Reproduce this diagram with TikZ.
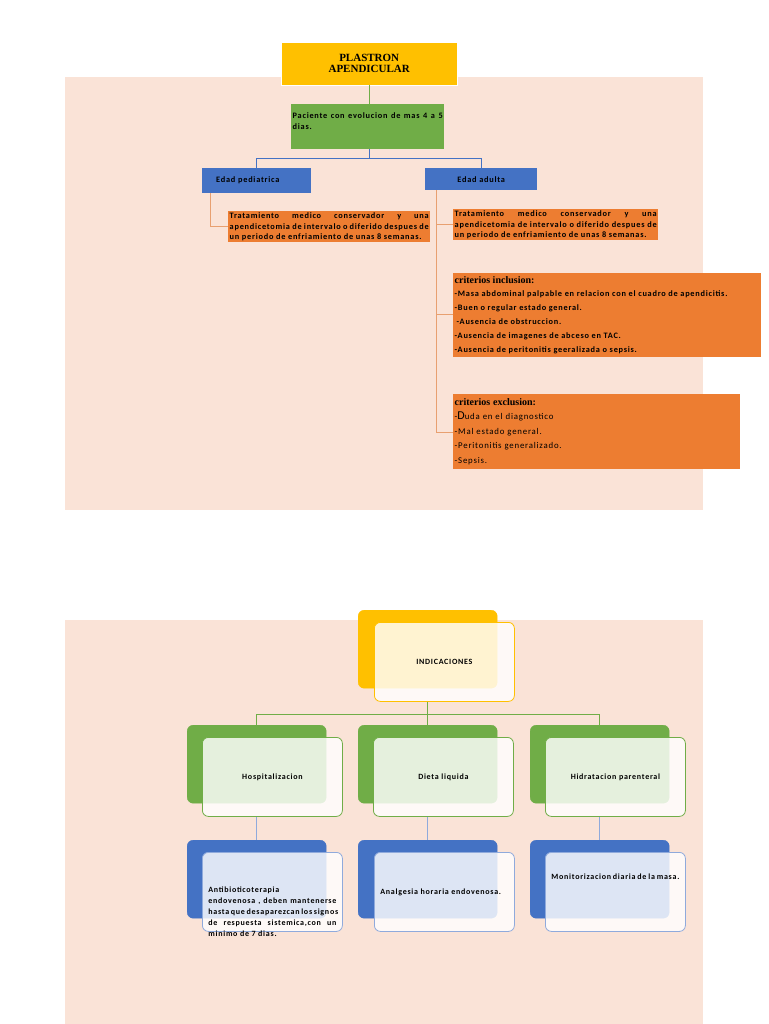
\documentclass[tikz,border=0pt]{standalone}
\usepackage{fontspec}
\setmainfont{Carlito}[LetterSpace=9]
\newfontfamily\titlefont{Liberation Serif}
\usetikzlibrary{positioning}
\definecolor{peach}{HTML}{FAE3D7}
\definecolor{gold}{HTML}{FFC000}
\definecolor{leaf}{HTML}{70AD47}
\definecolor{sky}{HTML}{4472C4}
\definecolor{rust}{HTML}{ED7D31}
\definecolor{rustline}{HTML}{E8A070}
\definecolor{slate}{HTML}{8FAADC}
\hyphenpenalty=10000
\exhyphenpenalty=10000

\begin{document}
\begin{tikzpicture}[x=1pt,y=-1pt,
  box/.style={anchor=north west,inner sep=1.5pt,font=\fontsize{8.3}{10.5}\selectfont\bfseries},
  textbox/.style={box,align=justify,text width=#1},
  backbox/.style={anchor=north west,rounded corners=6pt,minimum width=139pt,minimum height=78pt,fill=#1,draw=#1},
  frontbox/.style={anchor=north west,rounded corners=6pt,minimum width=140pt,minimum height=79pt,
    fill=white,fill opacity=0.82,text opacity=1,draw=#1,line width=0.8pt,
    font=\fontsize{8}{11}\selectfont\bfseries,text width=128pt},
  gline/.style={leaf,line width=0.8pt},
  bline/.style={sky,line width=0.8pt},
  oline/.style={rustline,line width=0.8pt}]
  \useasboundingbox (0,0) rectangle (768,1024);
  \fill[white] (0,0) rectangle (768,1024);
  \fill[peach] (65,77) rectangle (703,510);
  \fill[peach] (65,620) rectangle (703,1024);

  % first map
  \node[box,fill=gold,draw=white,minimum width=176pt,minimum height=43pt,align=center,
    font=\titlefont\fontsize{11}{11}\selectfont\bfseries] (title) at (281,42) {PLASTRON\\APENDICULAR};
  \node[textbox=150pt,fill=leaf,minimum height=45pt,text depth=22pt] (evol) at (291,104)
    {Paciente con evolucion de mas 4 a 5 dias.};
  \node[box,fill=sky,minimum width=109pt,minimum height=25pt,align=left,text width=105pt] (pedia) at (202,168) {\hspace*{12pt}Edad pediatrica};
  \node[box,fill=sky,minimum width=112pt,minimum height=22pt,align=center,text width=108pt] (adult) at (425,168) {Edad adulta};
  \node[textbox=199pt,fill=rust] (trat1) at (228,211)
    {Tratamiento medico conservador y una apendicetomia de intervalo o diferido despues de un periodo de enfriamiento de unas 8 semanas.};
  \node[textbox=202pt,fill=rust] (trat2) at (453,209)
    {Tratamiento medico conservador y una apendicetomia de intervalo o diferido despues de un periodo de enfriamiento de unas 8 semanas.};
  \node[textbox=305pt,fill=rust,font=\fontsize{8.3}{14}\selectfont\bfseries,inner ysep=3pt] (incl) at (453,273)
    {{\titlefont\fontsize{10}{10}\selectfont criterios inclusion:}\\[-1pt]
     -Masa abdominal palpable en relacion con el cuadro de apendicitis.\\
     -Buen o regular estado general.\\
     \hspace*{2pt}-Ausencia de obstruccion.\\
     -Ausencia de imagenes de abceso en TAC.\\
     -Ausencia de peritonitis geeralizada o sepsis.};
  \node[textbox=284pt,fill=rust,align=left,font=\fontsize{8.8}{14.5}\selectfont,inner ysep=4pt] (excl) at (453,394)
    {{\titlefont\fontsize{10}{10}\selectfont\bfseries criterios exclusion:}\\
     -{\large D}uda en el diagnostico\\
     -Mal estado general.\\
     -Peritonitis generalizado.\\
     -Sepsis.};

  \draw[gline] (title.south) -- (title.south |- evol.north);
  \draw[bline] (title.south |- evol.south) -- ++(0,9) -| (pedia.north);
  \draw[bline] (title.south |- evol.south) -- ++(0,9) -| (adult.north);
  \draw[oline] ([xshift=8pt]pedia.south west) |- (trat1.west);
  \draw[oline] ([xshift=11pt]adult.south west) |- (trat2.west);
  \draw[oline] ([xshift=11pt]adult.south west) |- (incl.west);
  \draw[oline] ([xshift=11pt]adult.south west) |- ([yshift=-1pt]excl.west);

  % second map
  \node[backbox=gold] (indiB) at (358,610) {};
  \node[frontbox=gold,align=center] (indi) at (374,622) {INDICACIONES};
  \foreach \name/\x/\txt in {hosp/187/Hospitalizacion,dieta/358/Dieta liquida,hidra/530/Hidratacion parenteral}{
    \node[backbox=leaf] (\name B) at (\x,725) {};
    \node[frontbox=leaf,align=center] (\name) at (\x+15,737) {\txt};
  }
  \node[backbox=sky] (antiB) at (187,840) {};
  \node[frontbox=slate,align=justify,text depth=4pt] (anti) at (202,852)
    {Antibioticoterapia\\ endovenosa , deben mantenerse hasta que desaparezcan los signos de respuesta sistemica,con un minimo de 7 dias.};
  \node[backbox=sky] (analB) at (358,840) {};
  \node[frontbox=slate,align=justify] (anal) at (374,852) {Analgesia horaria endovenosa.};
  \node[backbox=sky] (moniB) at (530,840) {};
  \node[frontbox=slate,align=justify,text depth=30pt] (moni) at (545,852) {Monitorizacion diaria de la masa.};

  \foreach \name in {hosp,dieta,hidra}
    \draw[gline] (indi.south -| indiB.south) -- ++(0,13) -| (\name.north -| \name B.north);
  \foreach \top/\low in {hosp/antiB,dieta/analB,hidra/moniB}
    \draw[slate,line width=0.8pt] (\top.south -| \low.north) -- (\low.north);
\end{tikzpicture}
\end{document}
